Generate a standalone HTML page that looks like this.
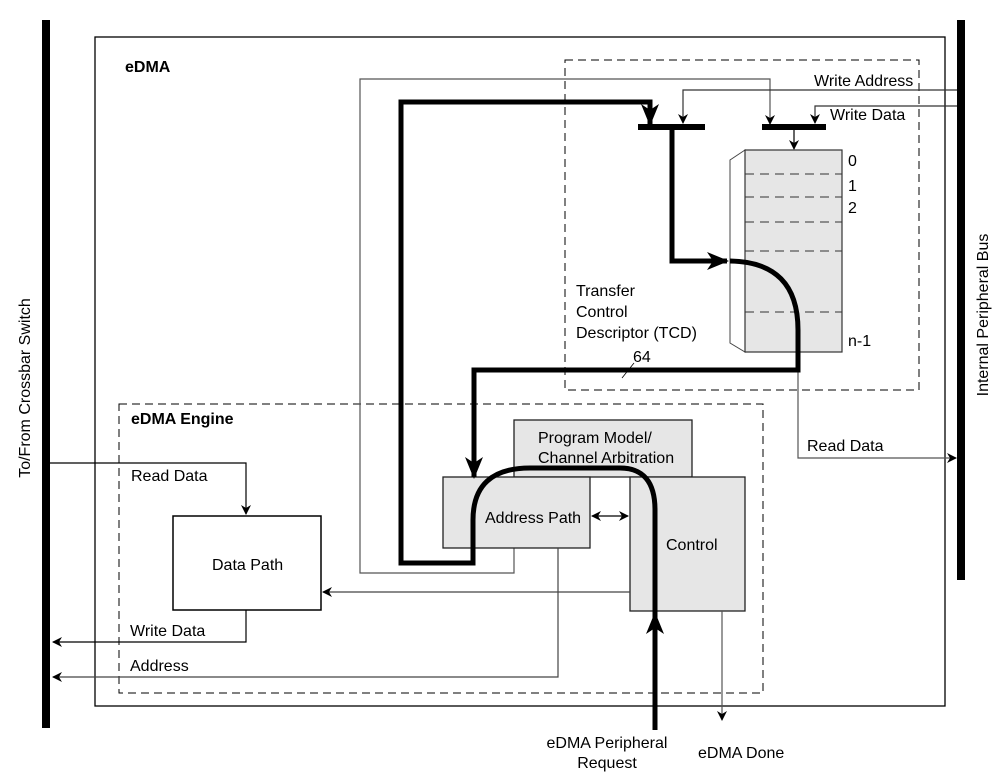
<!DOCTYPE html>
<html><head><meta charset="utf-8"><style>
html,body{margin:0;padding:0;background:#fff}
svg{display:block}
text{font-family:"Liberation Sans",sans-serif;font-size:16px;fill:#000}
</style></head><body>
<svg width="997" height="774" viewBox="0 0 997 774" xmlns="http://www.w3.org/2000/svg">
<defs>
<marker id="a" markerWidth="10" markerHeight="10" refX="9" refY="5" orient="auto-start-reverse" markerUnits="userSpaceOnUse"><path d="M0,0 L10,5 L0,10 L3,5 Z" fill="#000"/></marker>
<marker id="b" markerWidth="22" markerHeight="18" refX="20" refY="9" orient="auto" markerUnits="userSpaceOnUse"><path d="M0,0 L22,9 L0,18 L6,9 Z" fill="#000"/></marker>
</defs>
<rect x="42" y="20" width="8" height="708" fill="#000"/>
<rect x="957" y="20" width="8" height="560" fill="#000"/>
<text transform="translate(30,388) rotate(-90)" text-anchor="middle">To/From Crossbar Switch</text>
<text transform="translate(988,315) rotate(-90)" text-anchor="middle">Internal Peripheral Bus</text>
<rect x="95" y="37" width="850" height="669" fill="none" stroke="#000" stroke-width="1.3"/>
<text x="125" y="72" font-weight="bold">eDMA</text>
<rect x="565" y="60" width="354" height="330" fill="none" stroke="#000" stroke-dasharray="8,5"/>
<rect x="119" y="404" width="644" height="289" fill="none" stroke="#000" stroke-dasharray="8,5"/>
<text x="131" y="424" font-weight="bold">eDMA Engine</text>
<polyline points="514,548 514,573 360,573 360,79 770,79 770,124" fill="none" stroke="#555" stroke-width="1.2" marker-end="url(#a)"/>
<polyline points="957,90 683,90 683,123" fill="none" stroke="#333" stroke-width="1.2" marker-end="url(#a)"/>
<polyline points="957,106 815,106 815,123" fill="none" stroke="#333" stroke-width="1.2" marker-end="url(#a)"/>
<text x="814" y="86">Write Address</text>
<text x="830" y="120">Write Data</text>
<rect x="638" y="124" width="67" height="6" fill="#000"/>
<rect x="762" y="124" width="64" height="6" fill="#000"/>
<line x1="794" y1="130" x2="794" y2="149" stroke="#000" stroke-width="1.2" marker-end="url(#a)"/>
<polygon points="730,160 745,150 745,352 730,343" fill="#fff" stroke="#444" stroke-width="1"/>
<rect x="745" y="150" width="97" height="202" fill="#e6e6e6" stroke="#333" stroke-width="1.2"/>
<g stroke="#333" stroke-dasharray="9,6">
<line x1="745" y1="174" x2="842" y2="174"/><line x1="745" y1="197" x2="842" y2="197"/>
<line x1="745" y1="222" x2="842" y2="222"/><line x1="745" y1="251" x2="842" y2="251"/>
<line x1="745" y1="312" x2="842" y2="312"/></g>
<text x="848" y="166">0</text><text x="848" y="191">1</text><text x="848" y="213">2</text><text x="848" y="346">n-1</text>
<text x="576" y="296">Transfer</text><text x="576" y="317">Control</text><text x="576" y="338">Descriptor (TCD)</text>
<text x="633" y="362" font-size="14">64</text>
<line x1="622" y1="378" x2="634" y2="363" stroke="#000" stroke-width="0.8"/>
<polyline points="798,370 798,458 956,458" fill="none" stroke="#555" stroke-width="1.2" marker-end="url(#a)"/>
<text x="807" y="451">Read Data</text>
<rect x="514" y="420" width="178" height="57" fill="#e6e6e6" stroke="#222" stroke-width="1.3"/>
<text x="538" y="443">Program Model/</text><text x="538" y="463">Channel Arbitration</text>
<rect x="443" y="477" width="147" height="71" fill="#e6e6e6" stroke="#222" stroke-width="1.3"/>
<text x="485" y="523">Address Path</text>
<rect x="630" y="477" width="115" height="134" fill="#e6e6e6" stroke="#222" stroke-width="1.3"/>
<text x="666" y="550">Control</text>
<rect x="173" y="516" width="148" height="94" fill="#fff" stroke="#000" stroke-width="1.5"/>
<text x="212" y="570">Data Path</text>
<line x1="592" y1="516" x2="628" y2="516" stroke="#000" stroke-width="1.3" marker-end="url(#a)" marker-start="url(#a)"/>
<polyline points="630,592 323,592" fill="none" stroke="#444" stroke-width="1.2" marker-end="url(#a)"/>
<polyline points="558,548 558,677 53,677" fill="none" stroke="#444" stroke-width="1.2" marker-end="url(#a)"/>
<polyline points="50,463 246,463 246,514" fill="none" stroke="#000" stroke-width="1.2" marker-end="url(#a)"/>
<polyline points="246,610 246,642 53,642" fill="none" stroke="#000" stroke-width="1.2" marker-end="url(#a)"/>
<text x="131" y="481">Read Data</text><text x="130" y="636">Write Data</text><text x="130" y="671">Address</text>
<polyline points="722,611 722,720" fill="none" stroke="#555" stroke-width="1.2" marker-end="url(#a)"/>
<text x="698" y="758">eDMA Done</text>
<text x="607" y="748" text-anchor="middle">eDMA Peripheral</text>
<text x="607" y="768" text-anchor="middle">Request</text>
<g fill="none" stroke="#000" stroke-width="5">
<polyline points="473,548 473,563 401,563 401,102 650,102 650,124" marker-end="url(#b)"/>
<polyline points="672,129 672,261 727,261" marker-end="url(#b)"/>
<path d="M730,261 Q798,262 798,330 L798,370 L474,370 L474,477" marker-end="url(#b)"/>
<path d="M473,548 L473,520 Q473,468 530,468 L620,468 Q655,468 655,510 L655,730"/>
<line x1="655" y1="730" x2="655" y2="614" marker-end="url(#b)"/>
</g>
</svg>
</body></html>
